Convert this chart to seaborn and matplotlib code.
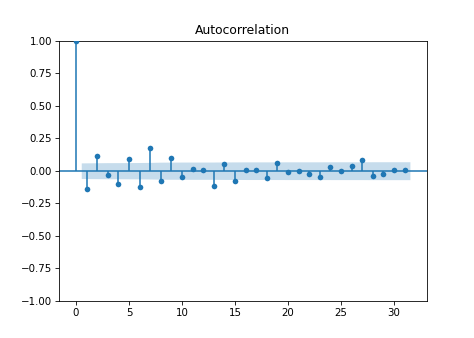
import numpy as np
import pandas as pd
import matplotlib
matplotlib.use("Agg")
import matplotlib.pyplot as plt
import seaborn as sns

# Sample autocorrelation by lag
lags = list(range(32))
acf_values = [1.0, -0.137, 0.113, -0.030, -0.100, 0.090, -0.125, 0.175,
              -0.080, 0.095, -0.048, 0.015, 0.003, -0.120, 0.054, -0.080,
              0.008, 0.005, -0.060, 0.060, -0.010, 0.000, -0.025, -0.050,
              0.025, -0.005, 0.035, 0.080, -0.037, -0.027, 0.005, 0.008]
n_obs = 1067  # series length used for the confidence band
z_crit = 1.96

df = pd.DataFrame({"lag": lags, "acf": acf_values})

# Bartlett's formula for the standard error of each lag's autocorrelation
acf_arr = np.asarray(acf_values)
var_acf = np.ones(len(acf_arr)) / n_obs
var_acf[0] = 0
var_acf[2:] *= 1 + 2 * np.cumsum(acf_arr[1:-1] ** 2)
half_width = z_crit * np.sqrt(var_acf)

fig, ax = plt.subplots(figsize=(474 / 74, 338 / 74), dpi=74)

ax.vlines(df["lag"], 0, df["acf"], color="C0", linewidth=1.5)
ax.axhline(0, color="C0", linewidth=1.5)
sns.scatterplot(data=df, x="lag", y="acf", ax=ax, color="C0", s=30,
                linewidth=0, zorder=3)

band_x = np.asarray(lags[1:], dtype=float)
band_x[0] -= 0.5
band_x[-1] += 0.5
ax.fill_between(band_x, -half_width[1:], half_width[1:], color="C0",
                alpha=0.25, linewidth=0)

ax.set_ylim(-1, 1)
ax.set_yticks(np.arange(-1, 1.01, 0.25))
ax.set_yticklabels([f"{v:.2f}".replace("-", "\u2212") for v in np.arange(-1, 1.01, 0.25)])
ax.set_xlabel("")
ax.set_ylabel("")
ax.set_title("Autocorrelation")

fig.savefig("out.png", dpi=74)
